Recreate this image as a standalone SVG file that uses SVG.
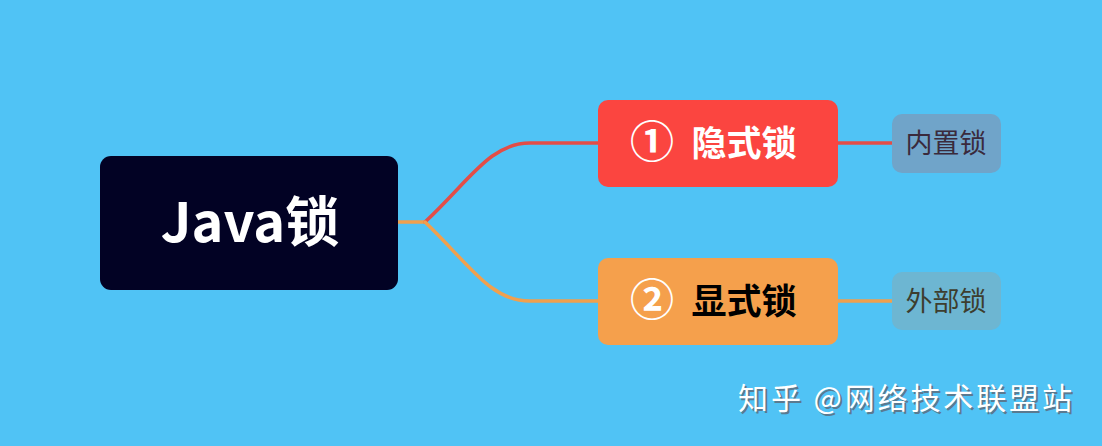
<svg xmlns="http://www.w3.org/2000/svg" width="1102" height="446" viewBox="0 0 1102 446">
<style>
.cjk{font-family:"Noto Sans CJK SC","Noto Sans",sans-serif}
.b{font-weight:bold}
.main{fill:#ffffff;font-size:54px}
.lvl1{font-size:35px}
.num{font-size:44px;fill:#ffffff}
.sub{font-size:27px}
.wm{font-size:30px;fill:#ffffff}
.wms{font-size:30px;fill:#5a7a90}
.conn{fill:none;stroke-width:3.5;stroke-linecap:round}
</style>
<rect width="1102" height="446" fill="#50c3f5"/>
<g id="connectors">
<path class="conn" d="M398 222 H425" stroke="#f0a04e"/>
<path class="conn" d="M425 222 C470 180 490 143 530 143 H600" stroke="#e34d47"/>
<path class="conn" d="M425 222 C470 265 490 301 530 301 H600" stroke="#f0a04e"/>
<path class="conn" d="M838 143 H893" stroke="#e34d47"/>
<path class="conn" d="M838 301 H893" stroke="#f0a04e"/>
</g>
<g id="root">
<rect x="100" y="156" width="298" height="134" rx="11" fill="#020224"/>
<text class="cjk b main" x="250" y="242" text-anchor="middle">Java锁</text>
</g>
<g id="implicit">
<rect x="598" y="100" width="240" height="87" rx="10" fill="#fb4540"/>
<text class="cjk b num" x="652" y="158" text-anchor="middle">①</text>
<text class="cjk b lvl1" x="744" y="156" text-anchor="middle" fill="#ffffff">隐式锁</text>
</g>
<g id="explicit">
<rect x="598" y="258" width="240" height="87" rx="10" fill="#f5a04c"/>
<text class="cjk b num" x="652" y="316" text-anchor="middle">②</text>
<text class="cjk b lvl1" x="744" y="314" text-anchor="middle" fill="#000000">显式锁</text>
</g>
<g id="builtin">
<rect x="892" y="114" width="109" height="59" rx="10" fill="#70a4c9"/>
<text class="cjk sub" x="946" y="153" text-anchor="middle" fill="#3a2a3c">内置锁</text>
</g>
<g id="external">
<rect x="892" y="272" width="109" height="58" rx="10" fill="#6db6d2"/>
<text class="cjk sub" x="946" y="311" text-anchor="middle" fill="#3d3d2e">外部锁</text>
</g>
<g id="watermark">
<text class="cjk wms" x="740" y="411" textLength="334" lengthAdjust="spacing">知乎 @网络技术联盟站</text>
<text class="cjk wm" x="738" y="409" textLength="334" lengthAdjust="spacing">知乎 @网络技术联盟站</text>
</g>
</svg>
